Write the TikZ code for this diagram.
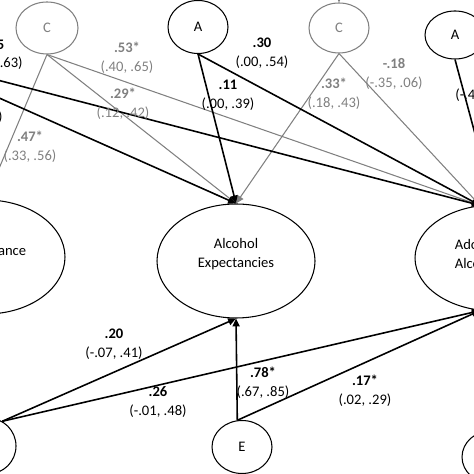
\documentclass[tikz,border=0pt]{standalone}
\usepackage{fontspec}
\setmainfont{Carlito}
\usetikzlibrary{shapes.geometric, arrows.meta, positioning, calc}
\definecolor{pathgray}{RGB}{128,128,128}

\begin{document}
\begin{tikzpicture}[font=\fontsize{8.3}{10.8}\selectfont,
    lat/.style={draw, ellipse, line width=0.6pt, inner sep=0pt},
    bigvar/.style={lat, minimum width=3.16cm, minimum height=2.28cm},
    smallvar/.style={lat, minimum width=1.2cm, minimum height=1.06cm},
    grayvar/.style={smallvar, draw=pathgray, text=pathgray},
    blk/.style={line width=0.9pt, -{Triangle[length=4.5pt, width=4pt]}},
    gry/.style={line width=0.6pt, pathgray, -{Triangle[length=4.5pt, width=4pt]}},
    est/.style={align=center, inner sep=1pt}]
  \useasboundingbox (0, 0) rectangle (9.48, 9.48);
  \clip (0, 0) rectangle (9.48, 9.48);
  % latent variables
  \node[grayvar, minimum width=1.24cm, minimum height=1.04cm] (c1) at (0.94, 8.92) {C};
  \node[smallvar] (a0) at (-1.9, 8.9) {A};
  \node[smallvar] (a1) at (3.96, 8.94) {A};
  \node[grayvar, minimum height=1.0cm] (c2) at (6.78, 8.92) {C};
  \node[smallvar, minimum height=0.96cm] (a2) at (9.1, 8.78) {A};
  \node[bigvar] (tol) at (-0.28, 4.34) {};
  \node[anchor=east, inner sep=0pt] (tolt) at (0.53, 4.44) {ance};
  \node[bigvar] (ae) at (4.72, 4.26) {};
  \node[align=center] (aet) at (4.72, 4.40) {Alcohol\\Expectancies};
  \node[bigvar, minimum height=2.12cm] (ado) at (9.88, 4.32) {};
  \node[anchor=west, align=left, inner sep=0pt] (adot) at (9.09, 4.40) {Ado\\Alco};
  \node[smallvar, minimum width=1.12cm, minimum height=1.12cm] (e0) at (-0.24, 0.56) {};
  \node[smallvar] (e1) at (4.84, 0.54) {E};
  \node[smallvar] (e2) at (9.84, 0.34) {};
  \coordinate (a1top) at ([yshift=0.4cm]a1.north);
  \coordinate (c2top) at ([yshift=0.4cm]c2.north);
  % paths
  \draw[blk] (a1top) -- (a1.north);
  \draw[gry] (c2top) -- (c2.north);
  \draw[gry] (c1.south) -- (tol.north);
  \draw[gry] (c1.south) -- (ae.north);
  \draw[gry] (c1.south) -- (ado.105);
  \draw[gry] (c2.south) -- (ae.north);
  \draw[gry] (c2.south) -- (ado.105);
  \draw[blk] (a0.south) -- (ae.north);
  \draw[blk] (a0.south) -- (ado.105);
  \draw[blk] (a1.south) -- (ae.north);
  \draw[blk] (a1.south) -- (ado.105);
  \draw[blk] (a2.south) -- (ado.north);
  \draw[blk] (e0.60) -- (ae.south);
  \draw[blk] (e0.60) -- (ado.-105);
  \draw[blk] (e1.100) -- (ae.south);
  \draw[blk] (e1.100) -- (ado.-105);
  % estimates
  \node[anchor=east, inner sep=0pt] (p45a) at (0.09, 8.58) {\textbf{5}};
  \node[anchor=east, inner sep=0pt] (p45b) at (0.46, 8.22) {.63)};
  \node[anchor=east, inner sep=0pt] (pxx) at (0.06, 7.14) {)};
  \node[anchor=west, inner sep=0pt] (pa2) at (9.10, 7.58) {(-.4};
  \node[est, pathgray] (p53) at (2.54, 8.33) {\textbf{.53*}\\(.40, .65)};
  \node[est, pathgray] (p29) at (2.46, 7.40) {\textbf{.29*}\\(.12, .42)};
  \node[est, pathgray] (p47) at (0.60, 6.54) {\textbf{.47*}\\(.33, .56)};
  \node[est] (p11) at (4.56, 7.58) {\textbf{.11}\\(.00, .39)};
  \node[est] (p30) at (5.24, 8.41) {\textbf{.30}\\(.00, .54)};
  \node[est, pathgray] (p33) at (6.68, 7.60) {\textbf{.33*}\\(.18, .43)};
  \node[est, pathgray] (p18) at (7.88, 8.01) {\textbf{-.18}\\(-.35, .06)};
  \node[est] (p20) at (2.28, 2.59) {\textbf{.20}\\(-.07, .41)};
  \node[est] (p26) at (3.16, 1.43) {\textbf{.26}\\(-.01, .48)};
  \node[est] (p78) at (5.26, 1.83) {\textbf{.78*}\\(.67, .85)};
  \node[est] (p17) at (7.30, 1.66) {\textbf{.17*}\\(.02, .29)};
\end{tikzpicture}
\end{document}
